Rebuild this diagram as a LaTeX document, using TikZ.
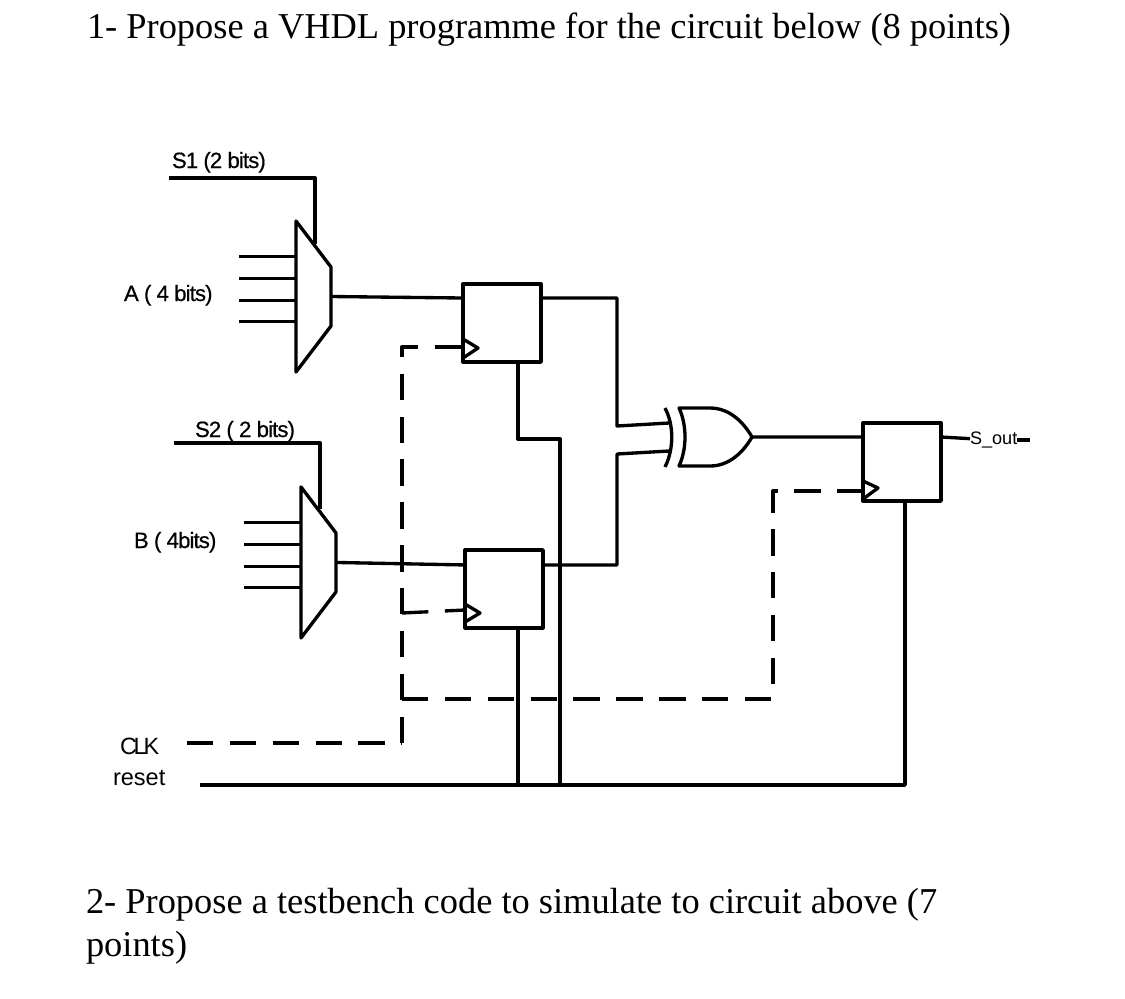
\documentclass[tikz,border=0pt]{standalone}
\usepackage{fontspec}
\setmainfont{Liberation Serif}
\newfontfamily\labelfont[LetterSpace=-4,FakeBold=0.6]{Liberation Sans}
\newfontfamily\clockfont[LetterSpace=-14]{Liberation Sans}
\newfontfamily\plainfont{Liberation Sans}
\usetikzlibrary{arrows.meta,positioning,calc}
\tikzset{
    every node/.style={color=black, inner sep=0pt, outer sep=0pt},
    question/.style={font=\fontsize{20.72}{24.4}\selectfont, align=left, anchor=west},
    siglabel/.style={font=\labelfont\fontsize{12.6}{14}\selectfont, anchor=base west},
    flipflop/.style={rectangle, draw, minimum size=1.56cm},
    muxbox/.style={rectangle, minimum width=0.7cm, minimum height=3.02cm},
    gatebox/.style={rectangle, minimum width=1.46cm, minimum height=1.16cm}
}

\begin{document}
\begin{tikzpicture}[
        x=0.02cm, y=-0.02cm,
        line width=1.9pt,
        line join=round,
        clockline/.style={dash pattern=on 15pt off 9.4pt}
    ]
    \useasboundingbox (0,0) rectangle (1125,998);

    % Questions
    \node[question] (q1) at (87,30) {1- Propose a VHDL programme for the circuit below (8 points)};
    \node[question] (q2) at (86,926) {2- Propose a testbench code to simulate to circuit above (7\\points)};

    % Flip-flops
    \node[flipflop] (ff1) at (502,323) {};
    \node[flipflop, below=3.76cm of ff1, xshift=0.04cm] (ff2) {};
    \node[flipflop] (ff3) at (902,462) {};

    % Multiplexers
    \node[muxbox] (muxa) at (313.5,296.5) {};
    \node[muxbox, below=2.3cm of muxa, xshift=0.1cm] (muxb) {};
    \foreach \m in {muxa,muxb}
        \draw (\m.north west) -- ($(\m.north east)+(0,46)$) -- ($(\m.south east)+(0,-46)$)
            -- (\m.south west) -- cycle;

    % Xor gate
    \node[gatebox] (xor) at (715.5,437) {};
    \draw (665,408) .. controls (674,425) and (674,449) .. (665,467);
    \draw (xor.north west) -- (710,408) .. controls (730,408) and (744,423) .. (xor.east)
        .. controls (744,451) and (730,466) .. (710,466) -- (xor.south west)
        .. controls (687,449) and (687,425) .. cycle;

    % Data inputs
    \foreach \y in {-40,-18,4,25}
        \draw ([yshift=-\y*0.02cm]muxa.west) -- ++(-57,0);
    \foreach \y in {-40,-18,4,25}
        \draw ([yshift=-\y*0.02cm]muxb.west) -- ++(-57,0);

    % Select lines
    \coordinate (s1) at (169,178);
    \coordinate (s2) at (174,443);
    \draw (s1) -- (315,178) -- (315,244);
    \draw (s2) -- (320,443) -- (320,509);

    % Data path
    \coordinate (xin1) at (669,423);
    \coordinate (xin2) at (669,451);
    \draw (muxa.east) -- ([yshift=0.5cm]ff1.west);
    \draw (muxb.east) -- ([yshift=0.48cm]ff2.west);
    \draw ([yshift=0.5cm]ff1.east) -- (617,298) -- (617,426) -- (xin1);
    \draw ([yshift=0.48cm]ff2.east) -- (617,565) -- (617,454) -- (xin2);
    \draw (xor.east) -- ([yshift=0.5cm]ff3.west);

    % Output
    \node[font=\plainfont\fontsize{10.3}{13}\selectfont, right=0.58cm of ff3.east, yshift=0.44cm] (sout) {S\_out};
    \coordinate[right=0.26cm of sout] (soutend);
    \draw ([yshift=0.5cm]ff3.east) -- (sout);
    \draw (sout) -- (soutend);

    % Reset
    \coordinate (rst) at (200,785);
    \draw (rst) -- (905,785) -- (905,501);
    \draw (518,785) -- (518,628);
    \draw (560,785) -- (560,439) -- (518,439) -- (518,362);

    % Clock
    \coordinate (clk) at (187,743);
    \coordinate (clkup) at (402,743);
    \draw[clockline] (clk) -- (clkup);
    \draw[clockline] (clkup) -- (402,347) -- (463,347);
    \draw[clockline] (402,613) -- (465,610);
    \draw[clockline] (402,699) -- (773,699) -- (773,491) -- (863,491);

    % Clock marks
    \draw (463,339) -- (478,348) -- (463,358);
    \draw (465,604) -- (480,613) -- (465,622);
    \draw (863,481) -- (878,488) -- (863,499);

    % Labels
    \node[siglabel] (ls1) at (172,168) {S1 (2 bits)};
    \node[siglabel] (la) at (124,301) {A ( 4 bits)};
    \node[siglabel] (ls2) at (195,437) {S2 ( 2 bits)};
    \node[siglabel] (lb) at (134,548) {B ( 4bits)};
    \node[font=\clockfont\fontsize{13.4}{15}\selectfont, anchor=base west] (lclk) at (120,754) {CLK};
    \node[font=\plainfont\fontsize{13.4}{15}\selectfont, anchor=base west] (lrst) at (113,785) {reset};

\end{tikzpicture}
\end{document}
